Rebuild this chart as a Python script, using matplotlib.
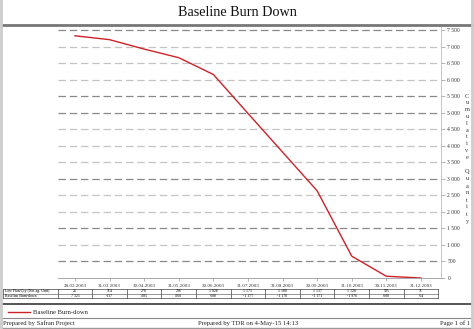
import matplotlib.pyplot as plt
from matplotlib.transforms import blended_transform_factory

dates = ["28.02.2003", "31.03.2003", "30.04.2003", "31.05.2003", "30.06.2003", "31.07.2003",
         "31.08.2003", "30.09.2003", "31.10.2003", "30.11.2003", "31.12.2003"]
baseline = [7325, 7208, 6923, 6663, 6155, 4978, 3808, 2637, 661, 53, 0]
plan_row = ["26", "114", "278", "236", "1 028", "1 171", "1 180", "1 137", "1 128", "595", "11"]
burn_row = ["7 325", "-117", "-285", "-260", "-508", "-1 177", "-1 170", "-1 171", "-1 976", "-608", "-54"]
yticks = [0, 500, 1000, 1500, 2000, 2500, 3000, 3500, 4000, 4500, 5000, 5500, 6000, 6500, 7000, 7500]
grid_dark = [500, 1500, 3000, 5000, 5500, 7500]

W, H = 474, 329
serif = ["Liberation Serif", "DejaVu Serif"]
plt.rcParams["font.family"] = serif

fig = plt.figure(figsize=(W / 100, H / 100), dpi=100)

# overlay in pixel coordinates for frame, title, footer
ov = fig.add_axes([0, 0, 1, 1])
ov.set_xlim(0, W)
ov.set_ylim(H, 0)
ov.axis("off")

ax = fig.add_axes([58 / W, 1 - 278 / H, (441 - 58) / W, (278 - 30) / H])
x = list(range(len(dates)))
ax.plot(x, baseline, color="#cc2229", lw=1.0, zorder=3)
ax.set_xlim(-0.49, 10.58)
ax.set_ylim(0, 7500)

for v in yticks[1:]:
    c = "#888888" if v in grid_dark else "#c4c4c4"
    ax.axhline(v, color=c, lw=0.9, ls=(0, (6, 3)), zorder=1, clip_on=False)

ax.yaxis.tick_right()
ax.set_yticks(yticks)
ax.set_yticklabels([f"{v:,}".replace(",", " ") for v in yticks])
ax.set_xticks(x)
ax.set_xticklabels(dates)
ax.tick_params(axis="y", length=3, width=0.5, color="#999999", labelsize=4, pad=1.5, labelcolor="#333333")
ax.tick_params(axis="x", length=2, width=0.5, color="#999999", labelsize=3.6, pad=2.5, labelcolor="#333333")
for s in ["top", "left"]:
    ax.spines[s].set_visible(False)
ax.spines["right"].set_color("#bbbbbb")
ax.spines["right"].set_linewidth(0.6)
ax.spines["right"].set_bounds(0, 7600)
ax.spines["bottom"].set_color("#999999")
ax.spines["bottom"].set_linewidth(0.6)

# y label: stacked letters
for i, ch in enumerate("Cumulative"):
    ov.text(467, 96 + i * 6.8, ch, fontsize=4.5, ha="center", va="center", color="#333333")
for i, ch in enumerate("Quantity"):
    ov.text(467, 172 + i * 7, ch, fontsize=4.5, ha="center", va="center", color="#333333")

# table under the x axis
tr = blended_transform_factory(ax.transData, ov.transData)
top, mid, bot = 289, 293.5, 298
ov.plot([3, 438], [top, top], color="#444444", lw=0.5)
ov.plot([3, 438], [mid, mid], color="#444444", lw=0.4)
ov.plot([3, 438], [bot, bot], color="#444444", lw=0.5)
ov.plot([3, 3], [top, bot], color="#444444", lw=0.5)
ov.plot([58, 58], [top, bot], color="#444444", lw=0.5)
for k in x:
    ax.plot([k + 0.5, k + 0.5], [top, bot], color="#444444", lw=0.5, transform=tr, clip_on=False)
    ax.text(k, (top + mid) / 2, plan_row[k], fontsize=2.8, ha="center", va="center", transform=tr)
    ax.text(k, (mid + bot) / 2, burn_row[k], fontsize=2.8, ha="center", va="center", transform=tr)
ov.text(5, (top + mid) / 2, "Low Plan/Qty (Net ag. Unit)", fontsize=2.8, ha="left", va="center")
ov.text(5, (mid + bot) / 2, "Baseline Burn-down", fontsize=2.8, ha="left", va="center")

# title and separators
ov.text(W / 2, 12.5, "Baseline Burn Down", fontsize=10.2, ha="center", va="center", color="#111111")
ov.plot([2, W - 2], [25, 25], color="#777777", lw=2.0)
ov.plot([2, W - 2], [303.5, 303.5], color="#555555", lw=1.4)
ov.plot([2, W - 2], [318, 318], color="#888888", lw=0.8)
ov.plot([2, W - 2], [328, 328], color="#999999", lw=1.0)
ov.plot([1, 1], [0, H], color="#cccccc", lw=2.0)
ov.plot([W - 1.5, W - 1.5], [0, H], color="#cccccc", lw=2.0)

# legend
ov.plot([8, 30], [312, 312], color="#cc2229", lw=1.0)
ov.text(33, 312, "Baseline Burn-down", fontsize=4.8, ha="left", va="center", color="#222222")

# footer
ov.text(3, 323.5, "Prepared by Safran Project", fontsize=4.8, ha="left", va="center", color="#222222")
ov.text(248, 323.5, "Prepared by TDR on 4-May-15 14:13", fontsize=4.8, ha="center", va="center", color="#222222")
ov.text(470, 323.5, "Page 1 of 1", fontsize=4.8, ha="right", va="center", color="#222222")

fig.savefig("out.png", dpi=100)
